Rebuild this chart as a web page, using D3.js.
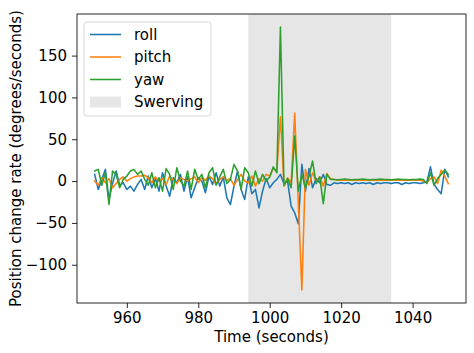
<!DOCTYPE html>
<html>
<head>
<meta charset="utf-8">
<script src="https://cdn.jsdelivr.net/npm/d3@7/dist/d3.min.js"></script>
<style>
  body { margin: 0; background: #fff; }
  svg text { font-family: "DejaVu Sans", sans-serif; fill: #000; }
</style>
</head>
<body>
<svg id="chart"></svg>
<script>
// time stamps (seconds)
const times = [
  951, 952, 953, 954, 955, 956, 957, 958, 959, 960,
  961, 962, 963, 964, 965, 966, 967, 968, 969, 970,
  971, 972, 973, 974, 975, 976, 977, 978, 979, 980,
  981, 982, 983, 984, 985, 986, 987, 988, 989, 990,
  991, 992, 993, 994, 995, 996, 997, 998, 999, 1000,
  1001, 1002, 1003, 1004, 1005, 1006, 1007, 1008, 1009, 1010,
  1011, 1012, 1013, 1014, 1015, 1016, 1017, 1018, 1019, 1020,
  1021, 1022, 1023, 1024, 1025, 1026, 1027, 1028, 1029, 1030,
  1031, 1032, 1033, 1034, 1035, 1036, 1037, 1038, 1039, 1040,
  1041, 1042, 1043, 1044, 1045, 1046, 1047, 1048, 1049, 1050
];

const roll = [
  8, -10, 2, 14, -22, -3, 12, -5, -2, -10,
  -6, -12, -4, 2, -10, 6, -8, 3, -12, 10,
  -6, -18, 4, -2, 8, -12, 5, -20, -8, 4,
  0, -14, 6, -4, 10, -6, 5, -20, -28, -6,
  12, -10, -22, 5, -15, -10, -32, -12, 3, -8,
  -2, 2, 8, -3, 0, -30, -38, -51, 20, -12,
  15, -8, 3, -2, 8, -4, -5, -2, -3, -2,
  -3, -2, -4, -2, -3, -2, -3, -2, -4, -2,
  -3, -2, -2, -3, -2, -2, -4, -2, -3, -2,
  -2, -3, -2, -1, 17, -4, -10, -15, 14, 5
];

const pitch = [
  0, -5, 4, -2, 3, -8, -3, 2, 5, 0,
  3, 5, 6, 6, 7, 4, -2, 5, 0, 3,
  -4, 6, 1, -3, 4, 2, 0, 3, 5, -2,
  4, 1, 6, 3, -4, 2, 5, 1, 3, -5,
  2, 8, 0, -2, 6, -6, 3, 0, 8, 6,
  15, 12, 77, -6, 4, -2, 81, -25, -130, 14,
  -5, 10, 0, 5, -6, 9, 3, 2, 1, 1,
  1, 1, 1, 1, 1, 1, 1, 1, 1, 1,
  1, 1, 1, 1, 1, 1, 1, 1, 1, 1,
  1, 1, 0, -2, 3, 5, -3, 13, 6, -3
];

const yaw = [
  12, 14, -5, 10, -28, 12, 8, -8, 2, 6,
  12, 14, 8, 12, 2, -5, 10, -8, 4, -12,
  15, 8, -10, 16, 0, -6, 12, -10, 14, 2,
  8, -8, 10, 16, -5, 5, 14, -3, 2, 20,
  12, -10, 16, 10, -6, 12, -3, 8, 0, 5,
  17, 10, 184, -5, 3, -8, 54, -12, 8, -8,
  6, 24, -3, 5, -27, 8, 2, 2, 1.5, 2,
  2.5, 2, 1.5, 2, 2, 2.5, 2, 1.5, 2, 2,
  2.5, 2, 2, 1.5, 2, 2.5, 2, 2, 1.5, 2,
  2, 2.5, 2, -3, 10, -5, 3, 8, 13, 8
];

const seriesNames = ["roll", "pitch", "yaw"];
const seriesColors = ["#1f77b4", "#ff7f0e", "#2ca02c"];
const swerving = [994, 1034];
const xTicks = [960, 980, 1000, 1020, 1040];
const yTicks = [-100, -50, 0, 50, 100, 150];

const width = 474, height = 353;
const margin = { top: 14, right: 8, bottom: 50, left: 77 };
const iw = width - margin.left - margin.right;
const ih = height - margin.top - margin.bottom;
const fs = "15px";

const svg = d3.select("#chart").attr("width", width).attr("height", height);
const g = svg.append("g").attr("transform", `translate(${margin.left},${margin.top})`);

// matplotlib-style 5% padding
const allVals = roll.concat(pitch, yaw);
const xExt = d3.extent(times), yExt = d3.extent(allVals);
const xPad = (xExt[1] - xExt[0]) * 0.05, yPad = (yExt[1] - yExt[0]) * 0.05;

const x = d3.scaleLinear().domain([xExt[0] - xPad, xExt[1] + xPad]).range([0, iw]);
const y = d3.scaleLinear().domain([yExt[0] - yPad, yExt[1] + yPad]).range([ih, 0]);

// swerving span
g.append("rect")
  .attr("x", x(swerving[0]))
  .attr("y", 0)
  .attr("width", x(swerving[1]) - x(swerving[0]))
  .attr("height", ih)
  .attr("fill", "grey")
  .attr("fill-opacity", 0.2);

const line = d3.line().x((d, i) => x(times[i])).y(d => y(d));
[roll, pitch, yaw].forEach((vals, k) => {
  g.append("path")
    .datum(vals)
    .attr("d", line)
    .attr("fill", "none")
    .attr("stroke", seriesColors[k])
    .attr("stroke-width", 1.55)
    .attr("stroke-linejoin", "round")
    .attr("stroke-linecap", "square");
});

// axes
const xAxis = d3.axisBottom(x).tickValues(xTicks).tickSize(5).tickPadding(4)
  .tickFormat(d3.format("d"));
const yAxis = d3.axisLeft(y).tickValues(yTicks).tickSize(5).tickPadding(5)
  .tickFormat(d => d < 0 ? "\u2212" + Math.abs(d) : d);

const gx = g.append("g").attr("transform", `translate(0,${ih})`).call(xAxis);
const gy = g.append("g").call(yAxis);
[gx, gy].forEach(a => {
  a.select(".domain").remove();
  a.selectAll("line").attr("stroke", "#000").attr("stroke-width", 0.85);
  a.selectAll("text").attr("font-size", fs).attr("fill", "#000");
});
gx.selectAll("text").attr("dy", "0.71em");

// frame
g.append("rect")
  .attr("width", iw).attr("height", ih)
  .attr("fill", "none").attr("stroke", "#000").attr("stroke-width", 0.85);

// axis labels
svg.append("text")
  .attr("x", margin.left + iw / 2)
  .attr("y", 342)
  .attr("text-anchor", "middle")
  .attr("font-size", fs)
  .text("Time (seconds)");

svg.append("text")
  .attr("transform", `translate(21,${margin.top + ih / 2}) rotate(-90)`)
  .attr("text-anchor", "middle")
  .attr("font-size", fs)
  .text("Position change rate (degrees/seconds)");

// legend
const lg = g.append("g").attr("transform", "translate(7,8)");
lg.append("rect")
  .attr("width", 127).attr("height", 94).attr("rx", 3)
  .attr("fill", "#fff").attr("fill-opacity", 0.8)
  .attr("stroke", "#d0d0d0").attr("stroke-width", 0.85);

const rowY = [12.5, 35, 57.5, 80];
seriesNames.forEach((name, k) => {
  lg.append("line")
    .attr("x1", 6).attr("x2", 37)
    .attr("y1", rowY[k]).attr("y2", rowY[k])
    .attr("stroke", seriesColors[k]).attr("stroke-width", 1.55);
  lg.append("text")
    .attr("x", 50).attr("y", rowY[k]).attr("dy", "0.35em")
    .attr("font-size", fs).text(name);
});
lg.append("rect")
  .attr("x", 6).attr("y", rowY[3] - 5.5).attr("width", 31).attr("height", 11)
  .attr("fill", "grey").attr("fill-opacity", 0.2);
lg.append("text")
  .attr("x", 50).attr("y", rowY[3]).attr("dy", "0.35em")
  .attr("font-size", fs).text("Swerving");
</script>
</body>
</html>
